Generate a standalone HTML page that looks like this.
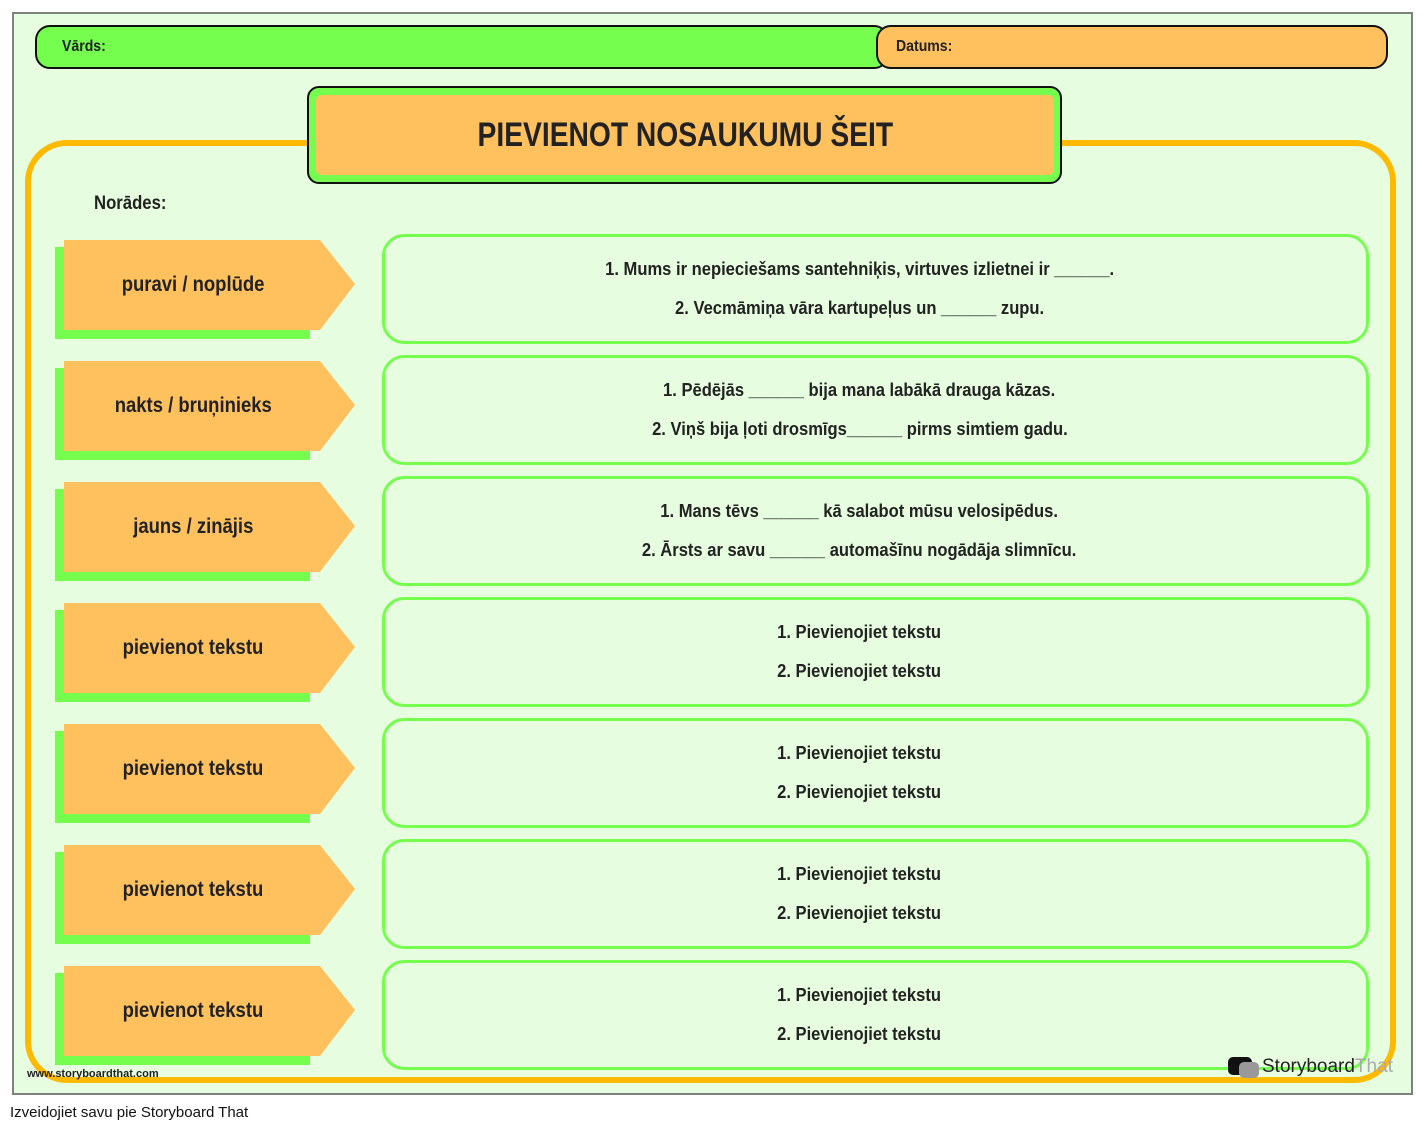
<!DOCTYPE html><html><head><meta charset="utf-8"><style>
body{margin:0;width:1425px;height:1132px;background:#fff;position:relative;font-family:"Liberation Sans Narrow","Liberation Sans",sans-serif;font-weight:bold;color:#222;overflow:hidden}
.a{position:absolute}
.s{display:inline-block;transform:scaleX(0.88);white-space:nowrap}
.frame{left:12px;top:12px;width:1397px;height:1079px;background:#e6fde0;border:2px solid #808080}
.name{left:35px;top:25px;width:850px;height:40px;background:#76fe4f;border:2px solid #111;border-radius:15px}
.date{left:876px;top:25px;width:508px;height:40px;background:#ffc15e;border:2px solid #111;border-radius:15px}
.lbl{font-size:16px;top:38px;transform-origin:left;transform:scaleX(0.88)}
.orange{left:25px;top:140px;width:1359px;height:931px;border:6px solid #ffba00;border-radius:42px}
.tbox{left:307px;top:86px;width:751px;height:94px;background:#76fe4f;border:2px solid #111;border-radius:12px}
.tin{left:316px;top:95px;width:738px;height:80px;background:#ffc15e;border-radius:6px;font-size:34px;display:flex;align-items:center;justify-content:center}
.box{left:382px;width:981px;height:104px;border:3px solid #76fe4f;border-radius:22px;text-align:center;font-size:18px}
.box div{position:absolute;left:0;right:0}
</style></head><body>
<div class="a frame"></div>
<div class="a name"></div>
<div class="a date"></div>
<div class="a lbl" style="left:62px">Vārds:</div>
<div class="a lbl" style="left:896px">Datums:</div>
<div class="a orange"></div>
<div class="a tbox"></div>
<div class="a tin"><span class="s" style="transform:scaleX(0.83)">PIEVIENOT NOSAUKUMU ŠEIT</span></div>
<div class="a" style="left:94px;top:193px;font-size:19px;transform-origin:left;transform:scaleX(0.88)">Norādes:</div>
<div id="rows"></div>
<script>
var rows=[["puravi / noplūde","1. Mums ir nepieciešams santehniķis, virtuves izlietnei ir ______.","2. Vecmāmiņa vāra kartupeļus un ______ zupu."],
["nakts / bruņinieks","1. Pēdējās ______ bija mana labākā drauga kāzas.","2. Viņš bija ļoti drosmīgs______ pirms simtiem gadu."],
["jauns / zinājis","1. Mans tēvs ______ kā salabot mūsu velosipēdus.","2. Ārsts ar savu ______ automašīnu nogādāja slimnīcu."]];
for(var i=0;i<4;i++)rows.push(["pievienot tekstu","1. Pievienojiet tekstu","2. Pievienojiet tekstu"]);
var h="";
for(var i=0;i<7;i++){var y=240+i*121;var r=rows[i];
h+='<svg class="a" style="left:55px;top:'+y+'px" width="305" height="100"><polygon points="0,7 255,7 255,99 0,99" fill="#76fe4f"/><polygon points="9,0 265,0 300,44 265,90 9,90" fill="#ffc15e"/></svg>';
h+='<div class="a" style="left:64px;top:'+y+'px;width:258px;height:90px;display:flex;align-items:center;justify-content:center;font-size:21px"><span class="s">'+r[0]+'</span></div>';
h+='<div class="a box" style="top:'+(y-6)+'px"><div style="top:22px;left:-32px"><span class="s" style="transform:scaleX(0.92)">'+r[1]+'</span></div><div style="top:61px;left:-32px"><span class="s" style="transform:scaleX(0.92)">'+r[2]+'</span></div></div>';}
document.getElementById("rows").innerHTML=h;
</script>
<div class="a" style="left:27px;top:1068px;font-size:11px;font-family:'Liberation Sans',sans-serif">www.storyboardthat.com</div>
<div class="a" style="left:1228px;top:1057px;width:24px;height:18px;background:#111;border-radius:5px"></div>
<div class="a" style="left:1239px;top:1062px;width:20px;height:16px;background:#999;border-radius:5px"></div>
<div class="a" style="left:1262px;top:1056px;font-size:19px;font-weight:normal;font-family:'Liberation Sans',sans-serif">Storyboard<span style="color:#aaa">That</span></div>
<div class="a" style="left:10px;top:1104px;font-size:15px;font-weight:normal;font-family:'Liberation Sans',sans-serif;color:#111">Izveidojiet savu pie Storyboard That</div>
</body></html>
